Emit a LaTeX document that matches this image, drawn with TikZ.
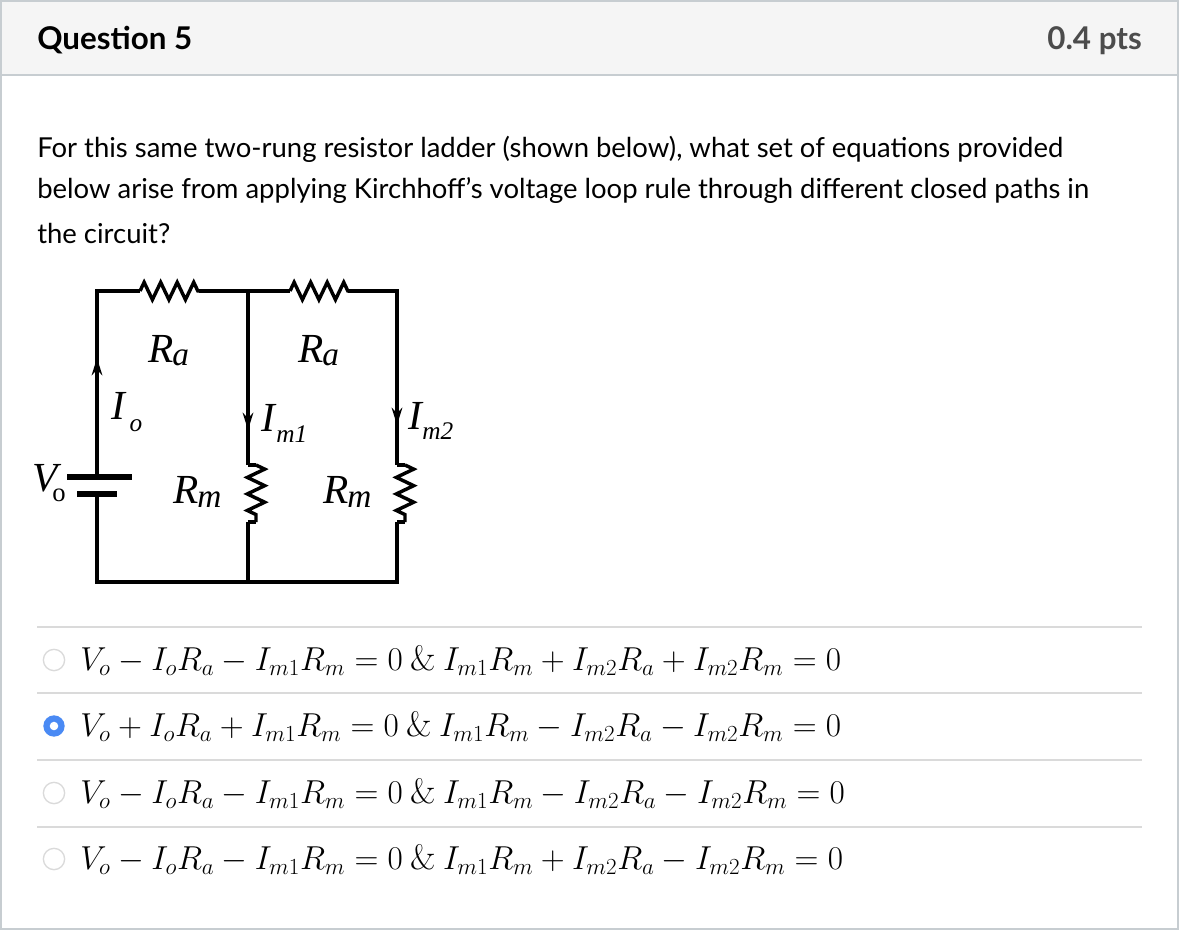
\documentclass[tikz,border=0pt]{standalone}
\usepackage{fontspec}
\setmainfont{Lato}
\newfontfamily\tms{Liberation Serif}
\newfontfamily\lmr{Latin Modern Roman}
\usetikzlibrary{decorations.pathmorphing,arrows.meta}
\definecolor{hdr}{HTML}{F5F5F5}
\definecolor{bord}{HTML}{C7CDD1}
\definecolor{sep}{HTML}{DADADA}
\definecolor{radio}{HTML}{4A8AF4}
\tikzset{
 wire/.style={line width=2.6pt},
 res/.style={line width=2.6pt,decorate,decoration={zigzag,segment length=12.4pt,amplitude=6.5pt,pre length=0pt,post length=0pt}},
 lbl/.style={font=\tms\itshape\fontsize{31}{31}\selectfont,inner sep=0pt},
 sub/.style={font=\tms\itshape\fontsize{19}{19}\selectfont,inner sep=0pt},
 body/.style={font=\fontsize{20.6}{27}\selectfont,anchor=west,inner sep=0pt},
 eq/.style={font=\fontsize{26.5}{26.5}\selectfont,anchor=west,inner sep=0pt},
 oring/.style={draw=sep,line width=1pt,fill=white},
 sepl/.style={draw=sep,line width=1pt},
 cur/.style={-{Stealth[length=13pt,width=8pt]},line width=2pt}
}
\newcommand{\amp}{\mathbin{\hbox{\lmr\&}}}
\begin{document}
\begin{tikzpicture}[x=0.75pt,y=-0.75pt]
\useasboundingbox (0,0) rectangle (1180,934);
\fill[hdr] (1,1) rectangle (1178,75);
\draw[bord,line width=1.2pt] (1,75) -- (1178,75);
\draw[bord,line width=1.5pt] (1,1) rectangle (1178,929);
\node[anchor=west,inner sep=0pt,font=\bfseries\fontsize{23.5}{23.5}\selectfont] (q) at (37,40) {Question 5};
\node[anchor=east,inner sep=0pt,font=\bfseries\fontsize{23.5}{23.5}\selectfont,text=black!70] (p) at (1142,41) {0.4 pts};
\node[body] (t1) at (37,149) {For this same two-rung resistor ladder (shown below), what set of equations provided};
\node[body] (t2) at (37,191) {below arise from applying Kirchhoff's voltage loop rule through different closed paths in};
\node[body] (t3) at (37,233) {the circuit?};
% circuit
\coordinate (tl) at (97,291); \coordinate (tm) at (248,291); \coordinate (tr) at (397,291);
\coordinate (bl) at (97,582); \coordinate (bm) at (248,582); \coordinate (br) at (397,582);
\coordinate (ra1a) at (140,291); \coordinate (ra1b) at (199,291);
\coordinate (ra2a) at (290,291); \coordinate (ra2b) at (348,291);
\coordinate (rm1a) at (256,465); \coordinate (rm1b) at (256,522);
\coordinate (rm2a) at (405,465); \coordinate (rm2b) at (405,522);
\coordinate (b1) at (97,477); \coordinate (b2) at (97,494);
\draw[wire] (b1) -- (tl) -- (ra1a) (ra1b) -- (ra2a) (ra2b) -- (tr) -- (397,465)
 (397,522) -- (br) -- (bl) -- (b2) (tm) -- (248,465) (248,522) -- (bm);
\draw[res] (ra1a) -- (ra1b);
\draw[res] (ra2a) -- (ra2b);
\draw[res] (rm1a) -- (rm1b);
\draw[res] (rm2a) -- (rm2b);
\draw[line width=2.6pt] (248,465) -- (256,465) (248,522) -- (256,522) (397,465) -- (405,465) (397,522) -- (405,522);
\draw[line width=3.8pt] (67,477) -- (132,477);
\draw[line width=3.8pt] (77,494) -- (117,494);
\draw[cur] (97,385) -- (97,358);
\draw[cur] (248,400) -- (248,430);
\draw[cur] (397,395) -- (397,425);
\node[lbl] (ra1) at (161,349) {R}; \node[lbl,anchor=west,font=\tms\itshape\fontsize{25}{25}\selectfont] (ra1s) at (172,358) {a};
\node[lbl] (ra2) at (311,349) {R}; \node[lbl,anchor=west,font=\tms\itshape\fontsize{25}{25}\selectfont] (ra2s) at (322,358) {a};
\node[lbl] (io) at (118,406) {I}; \node[sub] (ios) at (136,426) {o};
\node[lbl] (im1) at (268,418) {I}; \node[sub,anchor=west] (im1s) at (276,434) {m1};
\node[lbl] (im2) at (415,416) {I}; \node[sub,anchor=west] (im2s) at (422,431) {m2};
\node[lbl] (vo) at (45,478) {V}; \node[font=\tms\fontsize{20}{20}\selectfont,inner sep=0pt] (vos) at (59,495) {o};
\node[lbl] (rm1) at (186,490) {R}; \node[anchor=west,inner sep=0pt,font=\tms\itshape\fontsize{25}{25}\selectfont] (rm1s) at (197,500) {m};
\node[lbl] (rm2) at (336,490) {R}; \node[anchor=west,inner sep=0pt,font=\tms\itshape\fontsize{25}{25}\selectfont] (rm2s) at (347,500) {m};
% options
\draw[sepl] (37,627) -- (1142,627);
\draw[sepl] (37,693) -- (1142,693);
\draw[sepl] (37,760) -- (1142,760);
\draw[sepl] (37,827) -- (1142,827);
\node[oring,circle,minimum size=16pt] (o1) at (54,660) {};
\node[circle,fill=radio,minimum size=16pt,inner sep=0pt] (o2) at (54,726) {};
\fill[white] (o2) circle (3.2pt);
\node[oring,circle,minimum size=16pt] (o3) at (54,793) {};
\node[oring,circle,minimum size=16pt] (o4) at (54,859) {};
\node[eq] (e1) at (80,660) {$V_o-I_oR_a-I_{m1}R_m=0\amp I_{m1}R_m+I_{m2}R_a+I_{m2}R_m=0$};
\node[eq] (e2) at (80,726) {$V_o+I_oR_a+I_{m1}R_m=0\amp I_{m1}R_m-I_{m2}R_a-I_{m2}R_m=0$};
\node[eq] (e3) at (80,793) {$V_o-I_oR_a-I_{m1}R_m=0\amp I_{m1}R_m-I_{m2}R_a-I_{m2}R_m=0$};
\node[eq] (e4) at (80,859) {$V_o-I_oR_a-I_{m1}R_m=0\amp I_{m1}R_m+I_{m2}R_a-I_{m2}R_m=0$};
\end{tikzpicture}
\end{document}
